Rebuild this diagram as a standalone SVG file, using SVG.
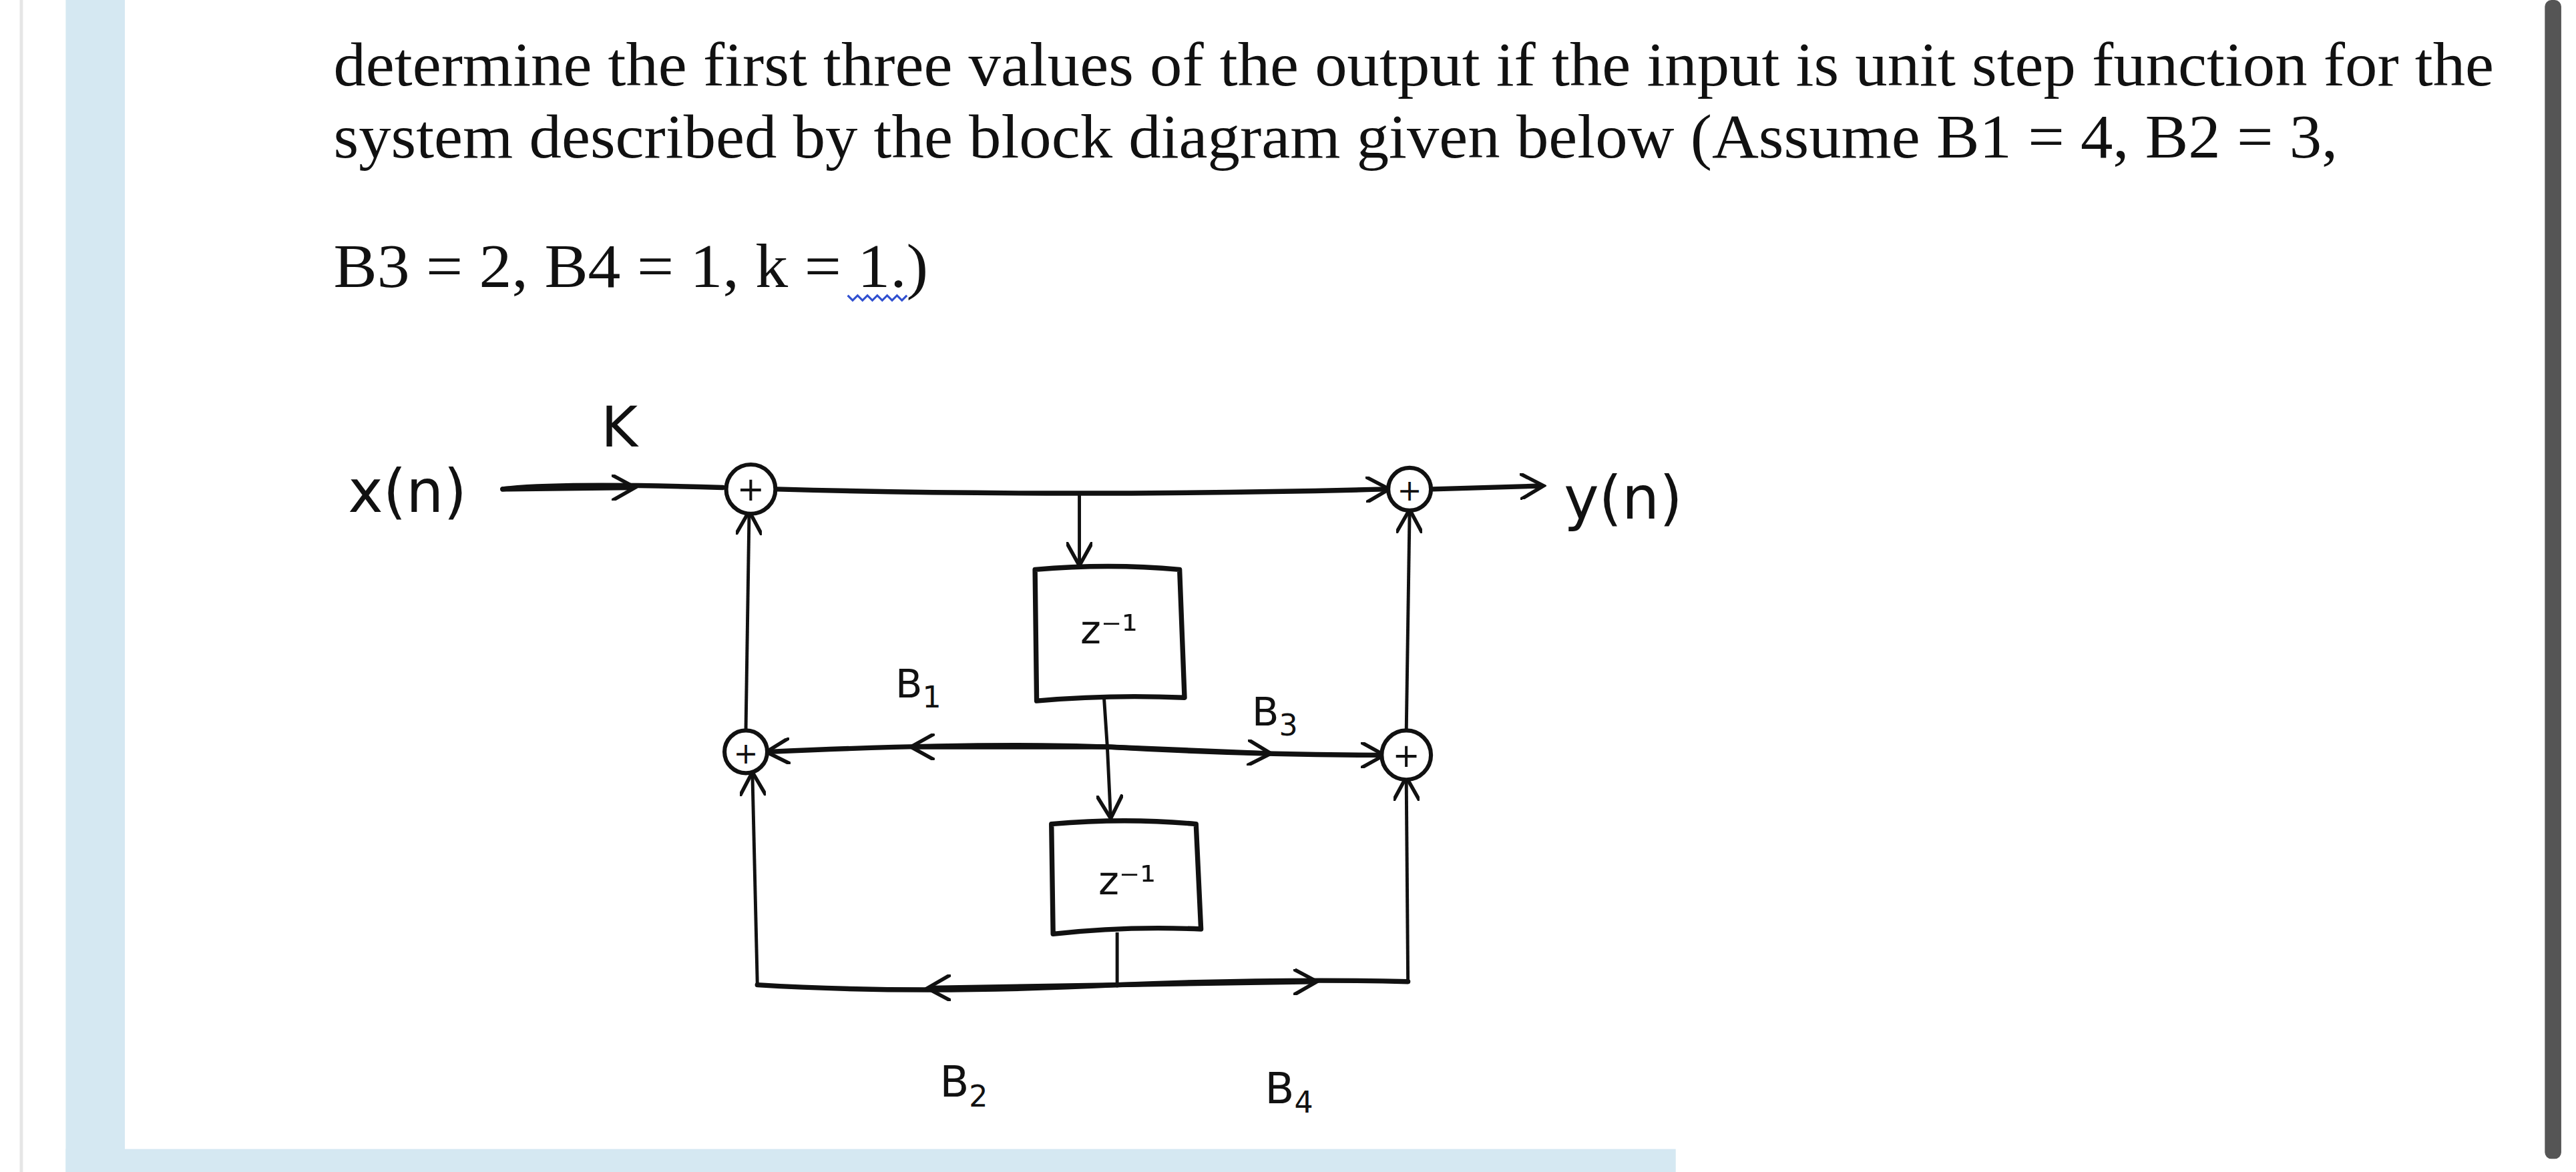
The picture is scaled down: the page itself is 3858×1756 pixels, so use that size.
<svg xmlns="http://www.w3.org/2000/svg" width="3858" height="1756" viewBox="0 0 3858 1756">
<style>
.q{font-family:"Liberation Serif",serif;font-size:38px;fill:#111}
.h{font-family:"DejaVu Sans",sans-serif;fill:#111}
.w{fill:none;stroke:#111;stroke-width:3;stroke-linecap:round;stroke-linejoin:round}
.t{fill:none;stroke:#111;stroke-width:2}
.c{fill:#fff;stroke:#111;stroke-width:2.5}
</style>
<defs>
<marker id="a" viewBox="0 0 10 10" refX="8" refY="5" markerWidth="16" markerHeight="16" orient="auto" markerUnits="userSpaceOnUse">
<path d="M0,0 L9,5 L0,10" fill="none" stroke="#111" stroke-width="1.4"/>
</marker>
</defs>
<g transform="scale(2.4605 2.4594)">
<rect width="1568" height="714" fill="#fff"/>
<rect x="40" y="0" width="36" height="714" fill="#d5e8f2"/>
<rect x="40" y="700" width="980" height="14" fill="#d5e8f2"/>
<rect x="12" y="0" width="2" height="714" fill="#e6e6e6"/>
<rect x="1549" y="0" width="10" height="706" rx="4" fill="#555"/>
<g id="question">
<text class="q" x="203" y="52" textLength="1315" lengthAdjust="spacingAndGlyphs">determine the first three values of the output if the input is unit step function for the</text>
<text class="q" x="203" y="96" textLength="1220" lengthAdjust="spacingAndGlyphs">system described by the block diagram given below (Assume B1 = 4, B2 = 3,</text>
<text class="q" x="203" y="175" textLength="362" lengthAdjust="spacingAndGlyphs">B3 = 2, B4 = 1, k = 1.)</text>
<path d="M516,180 l3,3 l3,-3 l3,3 l3,-3 l3,3 l3,-3 l3,3 l3,-3 l3,3 l3,-3 l3,3 l3,-3" fill="none" stroke="#3050d0" stroke-width="1.3"/>
</g>
<g id="connectors">
<path class="w" d="M306,298 Q340,294 440,297"/>
<path class="w" d="M306,298 L385,297" marker-end="url(#a)"/>
<path class="w" d="M473,298 Q650,303 844,298" marker-end="url(#a)"/>
<path class="w" d="M872,298 L938,296" marker-end="url(#a)"/>
<path class="t" d="M657,300 L657,343" marker-end="url(#a)"/>
<path class="t" d="M672,425 L674,455 L676,497" marker-end="url(#a)"/>
<path class="t" d="M680,568 L680,600"/>
<path class="w" d="M674,455 Q600,452 468,458" marker-end="url(#a)"/>
<path class="w" d="M674,455 L556,455" marker-end="url(#a)"/>
<path class="w" d="M674,455 Q760,460 841,460" marker-end="url(#a)"/>
<path class="w" d="M674,455 L772,459" marker-end="url(#a)"/>
<path class="t" d="M454,444 L456,313" marker-end="url(#a)"/>
<path class="t" d="M461,600 L458,472" marker-end="url(#a)"/>
<path class="t" d="M856,446 L858,312" marker-end="url(#a)"/>
<path class="t" d="M857,598 L856,475" marker-end="url(#a)"/>
<path class="w" d="M680,600 Q560,606 461,600"/>
<path class="w" d="M680,600 L566,602" marker-end="url(#a)"/>
<path class="w" d="M680,600 Q780,596 857,598"/>
<path class="w" d="M680,600 L800,598" marker-end="url(#a)"/>
</g>
<g id="adder-top-left"><circle class="c" cx="457" cy="298" r="15"/><text class="h" x="457" y="305" font-size="20" text-anchor="middle">+</text></g>
<g id="adder-top-right"><circle class="c" cx="858" cy="298" r="13"/><text class="h" x="858" y="305" font-size="18" text-anchor="middle">+</text></g>
<g id="adder-mid-left"><circle class="c" cx="454" cy="458" r="13"/><text class="h" x="454" y="465" font-size="18" text-anchor="middle">+</text></g>
<g id="adder-mid-right"><circle class="c" cx="856" cy="460" r="15"/><text class="h" x="856" y="467" font-size="20" text-anchor="middle">+</text></g>
<g id="delay1"><path class="w" d="M630,347 Q675,343 718,347 L721,425 Q675,423 631,427 Z" fill="#fff"/><text class="h" x="675" y="392" font-size="24" text-anchor="middle">z⁻¹</text></g>
<g id="delay2"><path class="w" d="M640,502 Q685,498 728,502 L731,566 Q685,564 641,569 Z" fill="#fff"/><text class="h" x="686" y="545" font-size="24" text-anchor="middle">z⁻¹</text></g>
<g id="labels">
<text class="h" x="248" y="312" font-size="36" text-anchor="middle">x(n)</text>
<text class="h" x="377" y="272" font-size="34" text-anchor="middle">K</text>
<text class="h" x="988" y="316" font-size="36" text-anchor="middle">y(n)</text>
<text class="h" x="545" y="425" font-size="24">B<tspan font-size="18" dy="6">1</tspan></text>
<text class="h" x="762" y="442" font-size="24">B<tspan font-size="18" dy="6">3</tspan></text>
<text class="h" x="572" y="668" font-size="26">B<tspan font-size="18" dy="6">2</tspan></text>
<text class="h" x="770" y="672" font-size="26">B<tspan font-size="18" dy="6">4</tspan></text>
</g>
</g>
</svg>
